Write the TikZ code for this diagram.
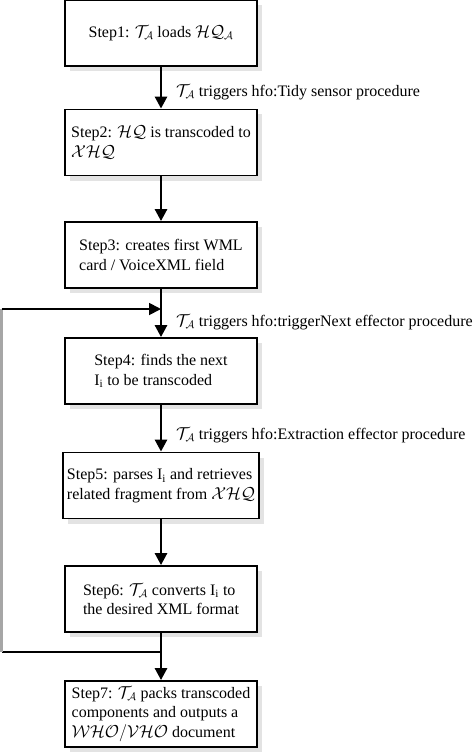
\documentclass[tikz,border=0pt]{standalone}
\usepackage{amsmath}
\usepackage{fontspec}
\setmainfont{Liberation Serif}
\usetikzlibrary{positioning, shapes, arrows.meta, shadows}

\tikzset{
  stepbox/.style={draw, line width=1.8pt, fill=white, align=left,
    minimum width=192pt, minimum height=66pt, inner sep=4pt,
    drop shadow={shadow xshift=5pt, shadow yshift=-5pt, fill=gray!22, opacity=1}},
  flow/.style={line width=2.7pt, -{Triangle[length=12pt, width=12pt]}},
  trig/.style={anchor=west, inner sep=0pt}
}

\begin{document}
\begin{tikzpicture}[x=1pt, y=-1pt, font=\fontsize{16}{19.5}\selectfont]
  \useasboundingbox (0,0) rectangle (474,754);
  \node[stepbox] (s1) at (161,33) {Step1: $\mathcal{T}_{\mathcal{A}}$ loads $\mathcal{HQ}_{\mathcal{A}}$};
  \node[stepbox] (s2) at (161,142.5) {Step2: $\mathcal{HQ}$ is transcoded to\\$\mathcal{XHQ}$};
  \node[stepbox] (s3) at (161,255) {Step3: creates first WML\\card / VoiceXML field};
  \node[stepbox] (s4) at (161,371) {Step4: finds the next\\I\textsubscript{i} to be transcoded};
  \node[stepbox] (s5) at (161,485.5) {Step5: parses I\textsubscript{i} and retrieves\\related fragment from $\mathcal{XHQ}$};
  \node[stepbox] (s6) at (161,599) {Step6: $\mathcal{T}_{\mathcal{A}}$ converts I\textsubscript{i} to\\the desired XML format};
  \node[stepbox] (s7) at (161,714) {Step7: $\mathcal{T}_{\mathcal{A}}$ packs transcoded\\components and outputs a\\$\mathcal{WHO}/\mathcal{VHO}$ document};
  \node[trig] (t1) at (176,92) {$\mathcal{T}_{\mathcal{A}}$ triggers hfo:Tidy sensor procedure};
  \node[trig] (t3) at (176,322) {$\mathcal{T}_{\mathcal{A}}$ triggers hfo:triggerNext effector procedure};
  \node[trig] (t4) at (176,435) {$\mathcal{T}_{\mathcal{A}}$ triggers hfo:Extraction effector procedure};
  \coordinate (in) at (161,309);
  \coordinate (out) at (161,652);
  \coordinate (up) at (1.5,309);
  \coordinate (down) at (1.5,652);
  \draw[flow] (s1) -- (s2);
  \draw[flow] (s2) -- (s3);
  \draw[flow] (s3) -- (s4);
  \draw[flow] (s4) -- (s5);
  \draw[flow] (s5) -- (s6);
  \draw[flow] (s6) -- (s7);
  \draw[line width=1.8pt] (out) -- (down);
  \draw[line width=2.2pt, gray!70] (down) -- (up);
  \draw[flow, line width=1.8pt] (up) -- (in);
\end{tikzpicture}
\end{document}
